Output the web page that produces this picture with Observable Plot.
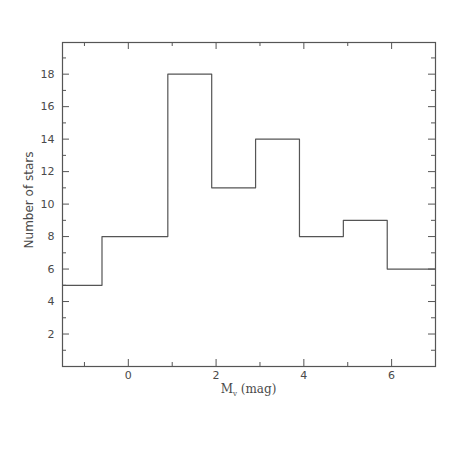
<!DOCTYPE html>
<html>
<head>
<meta charset="utf-8">
<script src="https://cdn.jsdelivr.net/npm/d3@7"></script>
<script src="https://cdn.jsdelivr.net/npm/@observablehq/plot@0.6"></script>
<style>
  html, body { margin: 0; padding: 0; background: #fff; }
  #chart svg { display: block; }
</style>
</head>
<body>
<div id="chart"></div>
<script>
// Histogram of absolute magnitudes M_v
const binStarts = [-1.6, -0.6, 0.9, 1.9, 2.9, 3.9, 4.9, 5.9];
const binEnd = 7.1;
const counts = [5, 8, 18, 11, 14, 8, 9, 6];

const xMajorTicks = [0, 2, 4, 6];
const xMinorTicks = [-1, 1, 3, 5];
const yMajorTicks = [2, 4, 6, 8, 10, 12, 14, 16, 18];
const yMinorTicks = [1, 3, 5, 7, 9, 11, 13, 15, 17, 19];

const xLabel = "M";
const xLabelSub = "v";
const xLabelRest = " (mag)";
const yLabel = "Number of stars";

const W = 474, H = 474;
const mL = 62, mR = 39, mT = 42, mB = 108;
const fw = W - mL - mR, fh = H - mT - mB;
const major = 7, minor = 4;
const col = "#555";
const textCol = "#4a4a4a";

const steps = binStarts.map((x, i) => ({x, y: counts[i]}));
steps.push({x: binEnd, y: counts[counts.length - 1]});

const plot = Plot.plot({
  width: W,
  height: H,
  marginLeft: mL,
  marginRight: mR,
  marginTop: mT,
  marginBottom: mB,
  style: {fontFamily: "DejaVu Sans, sans-serif", fontSize: "11px", color: textCol, background: "#fff"},
  x: {domain: [-1.5, 7], label: null},
  y: {domain: [0, 19.95], label: null},
  marks: [
    Plot.frame({stroke: col, strokeWidth: 1.2}),
    // inward ticks: bottom
    Plot.tickX(xMajorTicks, {x: d => d, stroke: col, insetTop: fh - major}),
    Plot.tickX(xMinorTicks, {x: d => d, stroke: col, insetTop: fh - minor}),
    // top
    Plot.tickX(xMajorTicks, {x: d => d, stroke: col, insetBottom: fh - major}),
    Plot.tickX(xMinorTicks, {x: d => d, stroke: col, insetBottom: fh - minor}),
    // left
    Plot.tickY(yMajorTicks, {y: d => d, stroke: col, insetRight: fw - major}),
    Plot.tickY(yMinorTicks, {y: d => d, stroke: col, insetRight: fw - minor}),
    // right
    Plot.tickY(yMajorTicks, {y: d => d, stroke: col, insetLeft: fw - major}),
    Plot.tickY(yMinorTicks, {y: d => d, stroke: col, insetLeft: fw - minor}),
    Plot.axisX(xMajorTicks, {tickSize: 0, tickPadding: 5, fontSize: 11, fill: textCol}),
    Plot.axisY(yMajorTicks, {tickSize: 0, tickPadding: 8, fontSize: 11, fill: textCol}),
    Plot.line(steps, {x: "x", y: "y", curve: "step-after", stroke: col, strokeWidth: 1.2, clip: "frame"})
  ]
});

const svg = d3.select(plot);
svg.append("text")
  .attr("transform", `translate(${mL - 29},${mT + fh / 2 - 4}) rotate(-90)`)
  .attr("text-anchor", "middle")
  .attr("font-family", "DejaVu Sans, sans-serif")
  .attr("font-size", 12)
  .attr("fill", textCol)
  .text(yLabel);

const xl = svg.append("text")
  .attr("x", mL + fw / 2)
  .attr("y", mT + fh + 27)
  .attr("text-anchor", "middle")
  .attr("font-family", "DejaVu Serif, serif")
  .attr("font-size", 12)
  .attr("fill", textCol);
xl.append("tspan").text(xLabel);
xl.append("tspan").attr("font-size", 7).attr("dy", 3).text(xLabelSub);
xl.append("tspan").attr("dy", -3).text(xLabelRest);

document.getElementById("chart").appendChild(plot);
</script>
</body>
</html>
